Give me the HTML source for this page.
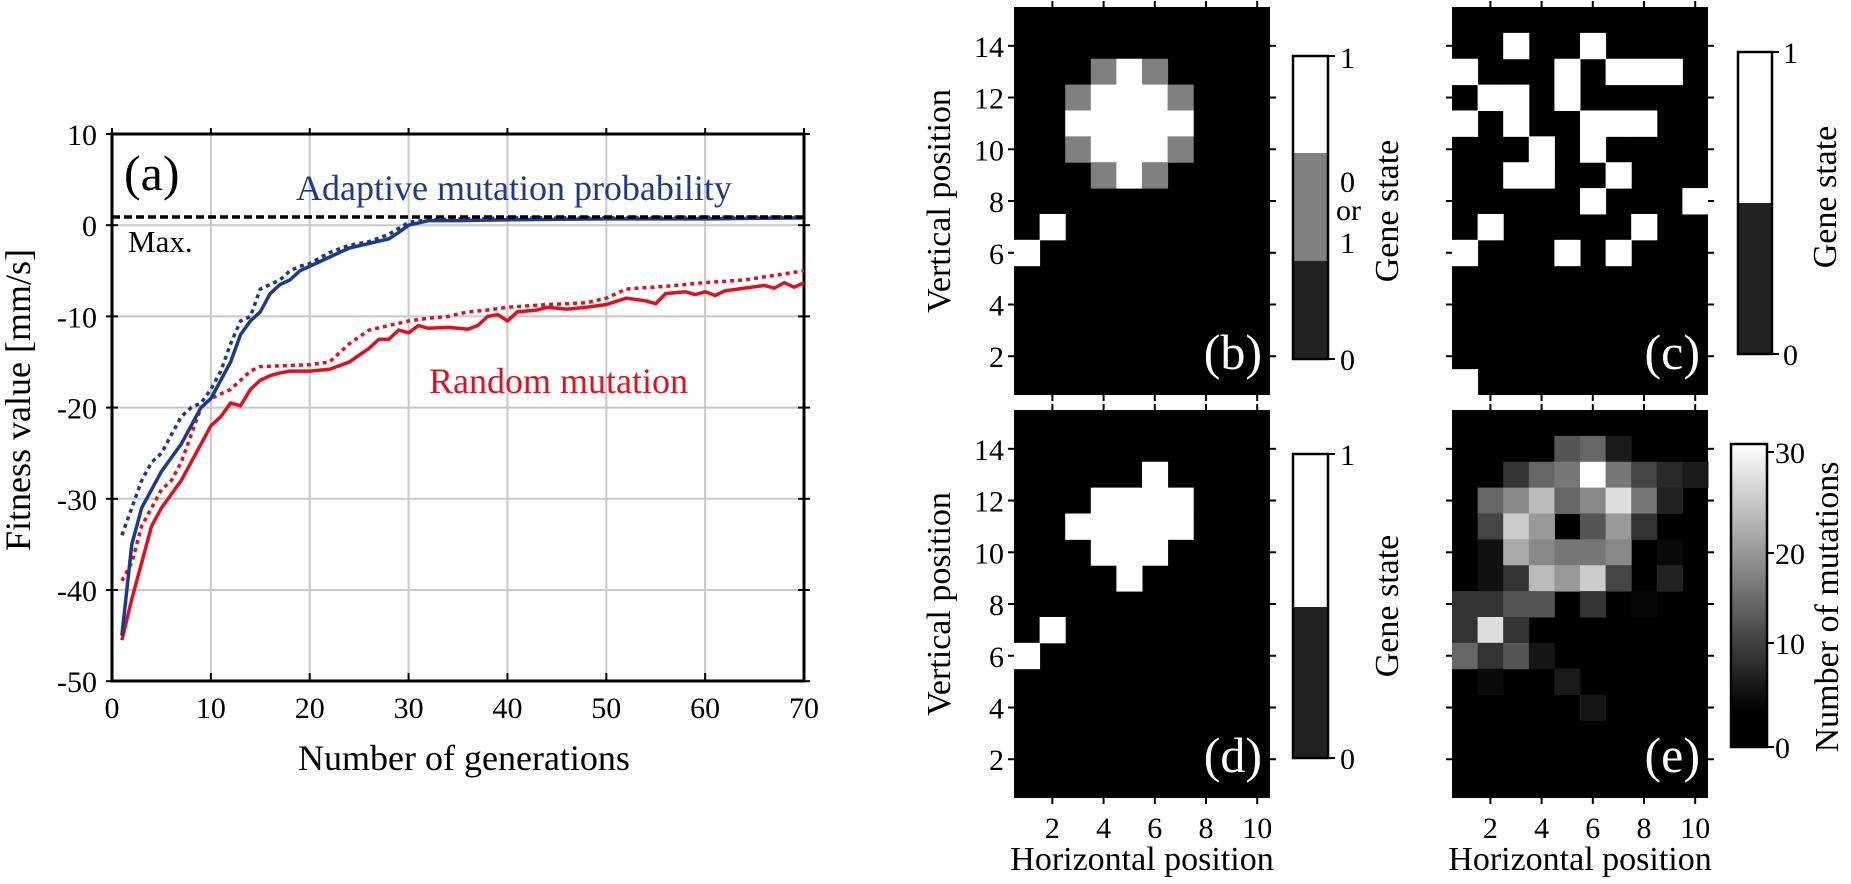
<!DOCTYPE html>
<html><head><meta charset="utf-8"><style>
html,body{margin:0;padding:0;background:#fff;}
svg{display:block;font-family:"Liberation Serif",serif;}
</style></head><body>
<svg width="1851" height="884" viewBox="0 0 1851 884" xmlns="http://www.w3.org/2000/svg">
<g id="a"></g><g id="rest"></g>
</svg>
<script>
const NS="http://www.w3.org/2000/svg";
const A=document.getElementById('a'), R=document.getElementById('rest');
function el(p,t,at,txt){const e=document.createElementNS(NS,t);for(const k in at)e.setAttribute(k,at[k]);if(txt!==undefined)e.textContent=txt;p.appendChild(e);return e;}
const X=g=>112+g*9.886, Y=v=>134+(10-v)*9.12;
for(let g=10;g<70;g+=10)el(A,'line',{x1:X(g),x2:X(g),y1:134,y2:681,stroke:'#c8c8c8','stroke-width':2});
for(let v=0;v>-50;v-=10)el(A,'line',{x1:112,x2:804,y1:Y(v),y2:Y(v),stroke:'#c8c8c8','stroke-width':2});
el(A,'rect',{x:112,y:134,width:692,height:547,fill:'none',stroke:'#000','stroke-width':3});
for(let g=0;g<=70;g+=10){el(A,'line',{x1:X(g),x2:X(g),y1:681,y2:673,stroke:'#000','stroke-width':2});el(A,'line',{x1:X(g),x2:X(g),y1:134,y2:128,stroke:'#000','stroke-width':2});
 el(A,'text',{x:X(g),y:718,'font-size':30,'text-anchor':'middle'},String(g));}
for(let v=10;v>=-50;v-=10){el(A,'line',{x1:106,x2:118,y1:Y(v),y2:Y(v),stroke:'#000','stroke-width':2});el(A,'line',{x1:798,x2:810,y1:Y(v),y2:Y(v),stroke:'#000','stroke-width':2});
 el(A,'text',{x:97,y:Y(v)+11,'font-size':30,'text-anchor':'end'},String(v));}
function line(pts,col,dash){el(A,'polyline',{points:pts.map(p=>X(p[0])+','+Y(p[1])).join(' '),fill:'none',stroke:col,'stroke-width':3.5,'stroke-dasharray':dash||'none'});}
const B='#1b3a8a',Rd='#e0101e';
const bs=[[1,-45],[2,-35],[3,-31],[4,-29],[5,-27],[6,-25.5],[7,-24],[8,-22],[9,-20],[10,-19],[11,-17],[12,-15],[13,-12],[14,-10.5],[15,-9.5],[16,-7.5],[17,-6.5],[18,-6],[19,-5],[20,-4.5],[22,-3.5],[24,-2.5],[26,-2],[28,-1.5],[29,-0.8],[30,0],[32,0.5],[35,0.5],[40,0.6],[50,0.7],[60,0.7],[70,0.8]];
const bd=[[1,-34],[2,-31],[3,-28],[4,-26],[5,-25],[6,-23],[7,-21],[8,-20],[9,-19.5],[10,-18],[11,-16],[12,-13],[13,-10.5],[14,-10],[15,-7],[16,-6.5],[17,-6],[18,-5],[19,-4.5],[20,-4.2],[22,-3],[24,-2.2],[26,-1.8],[28,-1],[30,0.3],[32,0.6],[40,0.8],[70,0.9]];
const rs=[[1,-45.5],[2,-41],[3,-37],[4,-33],[5,-31],[6,-29.5],[7,-28],[8,-26],[9,-24],[10,-22],[11,-21],[12,-19.5],[13,-19.8],[14,-18],[15,-17],[16,-16.5],[17,-16.2],[18,-16],[20,-16],[22,-15.8],[24,-15],[26,-13.5],[27,-12.5],[28,-12.5],[29,-11.5],[30,-11.8],[31,-11],[32,-11.3],[34,-11.2],[36,-11.4],[37,-11],[38,-10],[39,-9.8],[40,-10.5],[41,-9.5],[43,-9.3],[44,-9],[46,-9.2],[48,-9],[50,-8.7],[52,-8],[54,-8.3],[55,-8.6],[56,-7.5],[58,-7.3],[59,-7.6],[60,-7.3],[61,-7.7],[62,-7.2],[64,-6.9],[66,-6.6],[67,-6.9],[68,-6.3],[69,-6.8],[70,-6.3]];
const rd=[[1,-39],[2,-37],[3,-33],[4,-31],[5,-29],[6,-28],[7,-26],[8,-23],[9,-20],[10,-19],[11,-18.5],[12,-18],[13,-17],[14,-16],[15,-15.5],[20,-15.3],[22,-15],[24,-13],[26,-11.5],[28,-11],[30,-10.5],[32,-10.2],[34,-10],[36,-9.5],[38,-9.3],[40,-9],[44,-8.7],[48,-8.5],[50,-8],[52,-7],[56,-6.7],[60,-6.3],[64,-6],[70,-5]];
line(rd,Rd,'4 4');line(rs,Rd);line(bd,B,'4 4');line(bs,B);
el(A,'line',{x1:112,x2:804,y1:Y(0.9),y2:Y(0.9),stroke:'#000','stroke-width':3.5,'stroke-dasharray':'8 4'});
el(A,'text',{x:124,y:190,'font-size':50},'(a)');
el(A,'text',{x:296,y:200,'font-size':36,fill:B},'Adaptive mutation probability');
el(A,'text',{x:128,y:252,'font-size':31},'Max.');
el(A,'text',{x:429,y:393,'font-size':36,fill:Rd},'Random mutation');
el(A,'text',{x:464,y:770,'font-size':36,'text-anchor':'middle'},'Number of generations');
el(A,'text',{x:0,y:0,'font-size':36,'text-anchor':'middle',transform:'translate(30,400) rotate(-90)'},'Fitness value [mm/s]');
function panel(L,T,cells,lab,xl,yl){
 const cw=25.6,ch=25.87;
 el(R,'rect',{x:L,y:T,width:256,height:388,fill:'#000'});
 cells.forEach(c=>el(R,'rect',{x:L+(c[0]-1)*cw,y:T+(15-c[1])*ch,width:cw+0.5,height:ch+0.5,fill:c[2]||'#fff'}));
 for(let i=2;i<=10;i+=2){const x=L+(i-0.5)*cw;el(R,'line',{x1:x,x2:x,y1:T-6,y2:T,stroke:'#000','stroke-width':2});el(R,'line',{x1:x,x2:x,y1:T+388,y2:T+394,stroke:'#000','stroke-width':2});
  if(xl)el(R,'text',{x:x,y:T+428,'font-size':30,'text-anchor':'middle'},String(i));}
 for(let j=2;j<=14;j+=2){const y=T+(15-j+0.5)*ch;el(R,'line',{x1:L-6,x2:L,y1:y,y2:y,stroke:'#000','stroke-width':2});el(R,'line',{x1:L+256,x2:L+262,y1:y,y2:y,stroke:'#000','stroke-width':2});
  if(yl)el(R,'text',{x:L-10,y:y+11,'font-size':30,'text-anchor':'end'},String(j));}
 el(R,'text',{x:L+248,y:T+362,'font-size':50,fill:'#fff','text-anchor':'end'},lab);
 if(yl)el(R,'text',{x:0,y:0,'font-size':34,'text-anchor':'middle',transform:`translate(${L-64},${T+194}) rotate(-90)`},'Vertical position');
 if(xl)el(R,'text',{x:L+128,y:T+460,'font-size':34,'text-anchor':'middle'},'Horizontal position');
}
const G='#808080';
const bC=[[1,6],[2,7],[4,13,G],[5,13],[6,13,G],[3,12,G],[4,12],[5,12],[6,12],[7,12,G],[3,11],[4,11],[5,11],[6,11],[7,11],[3,10,G],[4,10],[5,10],[6,10],[7,10,G],[4,9,G],[5,9],[6,9,G]];
panel(1014,7,bC,'(b)',false,true);
const cC=[[3,14],[6,14],[1,13],[5,13],[7,13],[8,13],[9,13],[2,12],[3,12],[5,12],[1,11],[3,11],[6,11],[7,11],[8,11],[4,10],[6,10],[3,9],[4,9],[7,9],[6,8],[10,8],[2,7],[8,7],[1,6],[5,6],[7,6],[1,1]];
panel(1452,7,cC,'(c)',false,false);
const dC=[[1,6],[2,7],[6,13],[4,12],[5,12],[6,12],[7,12],[3,11],[4,11],[5,11],[6,11],[7,11],[4,10],[5,10],[6,10],[5,9]];
panel(1014,410,dC,'(d)',true,true);
const eC=[[5,14,'#555'],[6,14,'#666'],[7,14,'#1a1a1a'],
[3,13,'#333'],[4,13,'#666'],[5,13,'#777'],[6,13,'#fff'],[7,13,'#777'],[8,13,'#444'],[9,13,'#2a2a2a'],[10,13,'#1a1a1a'],
[2,12,'#666'],[3,12,'#888'],[4,12,'#bbb'],[5,12,'#666'],[6,12,'#888'],[7,12,'#ddd'],[8,12,'#777'],[9,12,'#222'],
[2,11,'#444'],[3,11,'#ccc'],[4,11,'#999'],[6,11,'#555'],[7,11,'#999'],[8,11,'#333'],
[2,10,'#111'],[3,10,'#aaa'],[4,10,'#888'],[5,10,'#777'],[6,10,'#777'],[7,10,'#888'],[9,10,'#0a0a0a'],
[2,9,'#111'],[3,9,'#333'],[4,9,'#bbb'],[5,9,'#999'],[6,9,'#ccc'],[7,9,'#444'],[9,9,'#222'],
[1,8,'#333'],[2,8,'#333'],[3,8,'#555'],[4,8,'#555'],[6,8,'#333'],[8,8,'#050505'],
[1,7,'#333'],[2,7,'#ddd'],[3,7,'#333'],
[1,6,'#666'],[2,6,'#333'],[3,6,'#555'],[4,6,'#151515'],
[2,5,'#0a0a0a'],[5,5,'#1a1a1a'],[6,4,'#151515']];
panel(1452,410,eC,'(e)',true,false);
function tick(x,y){el(R,'line',{x1:x,x2:x+7,y1:y,y2:y,stroke:'#000','stroke-width':2});}
el(R,'rect',{x:1293,y:56,width:35,height:97,fill:'#fff'});
el(R,'rect',{x:1293,y:153,width:35,height:108,fill:'#808080'});
el(R,'rect',{x:1293,y:261,width:35,height:98,fill:'#222'});
el(R,'rect',{x:1293,y:56,width:35,height:303,fill:'none',stroke:'#000','stroke-width':2.5});
tick(1328,56);tick(1328,359);
el(R,'text',{x:1340,y:68,'font-size':30},'1');el(R,'text',{x:1340,y:370,'font-size':30},'0');
el(R,'text',{x:1340,y:192,'font-size':30},'0');el(R,'text',{x:1336,y:220,'font-size':30},'or');el(R,'text',{x:1340,y:253,'font-size':30},'1');
el(R,'text',{x:0,y:0,'font-size':34,'text-anchor':'middle',transform:'translate(1398,211) rotate(-90)'},'Gene state');
el(R,'rect',{x:1738,y:52,width:34,height:151,fill:'#fff'});
el(R,'rect',{x:1738,y:203,width:34,height:151,fill:'#222'});
el(R,'rect',{x:1738,y:52,width:34,height:302,fill:'none',stroke:'#000','stroke-width':2.5});
tick(1772,52);tick(1772,354);
el(R,'text',{x:1783,y:63,'font-size':30},'1');el(R,'text',{x:1783,y:365,'font-size':30},'0');
el(R,'text',{x:0,y:0,'font-size':34,'text-anchor':'middle',transform:'translate(1836,197) rotate(-90)'},'Gene state');
el(R,'rect',{x:1293,y:454,width:35,height:153,fill:'#fff'});
el(R,'rect',{x:1293,y:607,width:35,height:151,fill:'#222'});
el(R,'rect',{x:1293,y:454,width:35,height:304,fill:'none',stroke:'#000','stroke-width':2.5});
tick(1328,454);tick(1328,758);
el(R,'text',{x:1340,y:465,'font-size':30},'1');el(R,'text',{x:1340,y:769,'font-size':30},'0');
el(R,'text',{x:0,y:0,'font-size':34,'text-anchor':'middle',transform:'translate(1398,606) rotate(-90)'},'Gene state');
const defs=el(R,'defs',{});const lg=el(defs,'linearGradient',{id:'gr',x1:0,y1:1,x2:0,y2:0});
el(lg,'stop',{offset:0,'stop-color':'#000'});el(lg,'stop',{offset:0.12,'stop-color':'#000'});el(lg,'stop',{offset:1,'stop-color':'#fff'});
el(R,'rect',{x:1731,y:444,width:36,height:303,fill:'url(#gr)',stroke:'#000','stroke-width':2.5});
[[30,452],[20,553],[10,643],[0,747]].forEach(t=>{tick(1767,t[1]);el(R,'text',{x:1775,y:t[1]+11,'font-size':30},String(t[0]));});
el(R,'text',{x:0,y:0,'font-size':34,'text-anchor':'middle',transform:'translate(1838,607) rotate(-90)'},'Number of mutations');
</script>
</body></html>
